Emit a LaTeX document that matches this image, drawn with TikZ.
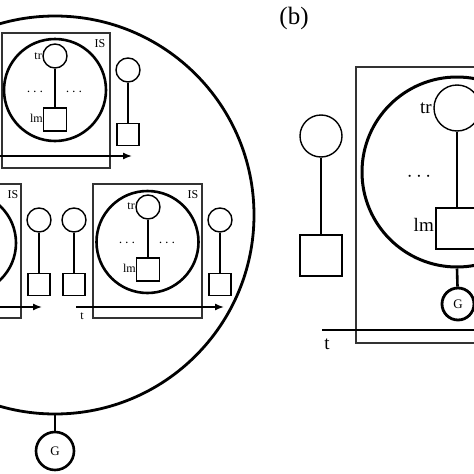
\documentclass[tikz,border=0pt]{standalone}
\usepackage{fontspec}
\setmainfont{Liberation Serif}
\usetikzlibrary{arrows.meta}
\begin{document}
\begin{tikzpicture}[x=1pt,y=-1pt,
  ring/.style={circle,draw,inner sep=0pt,line width=#1},
  ring/.default=2.6pt,
  isbox/.style={rectangle,draw=black!80,line width=1.5pt,inner sep=0pt},
  trc/.style={circle,draw,line width=1.4pt,inner sep=0pt,minimum size=#1},
  lmb/.style={rectangle,draw,line width=1.4pt,inner sep=0pt,minimum size=#1},
  link/.style={line width=1.4pt},
  tarrow/.style={line width=1.4pt,-{Latex[length=9pt,width=7pt]}},
  lab/.style={inner sep=0pt,font=\fontsize{12}{12}\selectfont},
  labb/.style={inner sep=0pt,font=\fontsize{19}{19}\selectfont},
  dotsl/.style={inner sep=0pt,font=\fontsize{15}{15}\selectfont}
]
\clip (0,0) rectangle (474,474);
\fill[white] (0,0) rectangle (474,474);

% ---------- panel (a) ----------
\node[ring=2.8pt,minimum size=398pt] (big) at (55,215) {};
\node[ring=2.6pt,minimum size=38pt,font=\fontsize{13}{13}\selectfont] (Ga) at (55,451) {G};
\draw[line width=2.6pt] (big.south) -- (Ga);

% top IS box
\node[isbox,minimum width=108pt,minimum height=135pt] (is1) at (56,100.5) {};
\node[lab] (is1l) at (100,44) {IS};
\node[ring,minimum size=102pt] (c1) at (55,90) {};
\node[trc=24pt] (tr1) at (55,56) {};
\node[lmb=23pt] (lm1) at (55,119.5) {};
\draw[link] (tr1) -- (lm1);
\node[lab,anchor=east] (tr1l) at (42,56) {tr};
\node[lab,anchor=east] (lm1l) at (43,118) {lm};
\node[dotsl] (d1a) at (35,92) {$\cdots$};
\node[dotsl] (d1b) at (74,92) {$\cdots$};
\coordinate (a1s) at (-2,156);
\coordinate (a1e) at (132,156);
\draw[tarrow] (a1s) -- (a1e);

% pair right of top box
\node[trc=24pt] (p1c) at (128,70) {};
\node[lmb=22pt] (p1b) at (128,134.5) {};
\draw[link] (p1c) -- (p1b);

% middle-left IS box (cut)
\node[isbox,minimum width=108pt,minimum height=134pt] (is2) at (-33,251) {};
\node[lab] (is2l) at (13,195) {IS};
\node[ring,minimum size=102pt] (c2) at (-35,243) {};
\coordinate (a2s) at (-2,307);
\coordinate (a2e) at (42,307);
\draw[tarrow] (a2s) -- (a2e);

% pairs between
\node[trc=24pt] (p2c) at (39,220) {};
\node[lmb=22pt] (p2b) at (39,284.5) {};
\draw[link] (p2c) -- (p2b);
\node[trc=24pt] (p3c) at (74,220) {};
\node[lmb=22pt] (p3b) at (74,284.5) {};
\draw[link] (p3c) -- (p3b);

% middle-right IS box
\node[isbox,minimum width=109pt,minimum height=134pt] (is3) at (147.5,251) {};
\node[lab] (is3l) at (193,195) {IS};
\node[ring,minimum size=102pt] (c3) at (147.5,242) {};
\node[trc=24pt] (tr3) at (148,207) {};
\node[lmb=23pt] (lm3) at (148,269.5) {};
\draw[link] (tr3) -- (lm3);
\node[lab,anchor=east] (tr3l) at (135,206) {tr};
\node[lab,anchor=east] (lm3l) at (136,268) {lm};
\node[dotsl] (d3a) at (127,243) {$\cdots$};
\node[dotsl] (d3b) at (167,243) {$\cdots$};
\coordinate (a3s) at (76,307);
\coordinate (a3e) at (224,307);
\draw[tarrow] (a3s) -- (a3e);
\node[lab] (t3) at (82,316) {t};

% pair right
\node[trc=24pt] (p4c) at (220,220) {};
\node[lmb=22pt] (p4b) at (220,284.5) {};
\draw[link] (p4c) -- (p4b);

% ---------- panel (b) ----------
\node[inner sep=0pt,font=\fontsize{25}{25}\selectfont] (blab) at (294,18) {(b)};

\node[trc=42pt] (bpc) at (321,136) {};
\node[lmb=42pt,minimum height=41pt] (bpb) at (321,255.5) {};
\draw[link] (bpc) -- (bpb);

\node[isbox,line width=1.6pt,minimum width=220pt,minimum height=276pt] (bis) at (466,205) {};
\node[ring=3pt,minimum size=190pt] (bc) at (457,172) {};
\node[trc=46pt] (btr) at (457,108) {};
\node[lmb=42pt,minimum height=41pt] (blm) at (457,228.5) {};
\draw[link] (btr) -- (blm);
\node[labb,anchor=east] (btrl) at (432,108) {tr};
\node[labb,anchor=east] (blml) at (434,225) {lm};
\node[inner sep=0pt,font=\fontsize{21}{21}\selectfont] (bdots) at (419,177) {$\cdots$};
\node[ring=2.8pt,minimum size=32pt,font=\fontsize{13}{13}\selectfont] (Gb) at (458,304) {G};
\draw[line width=2.6pt] (bc.south) -- (Gb);
\coordinate (bts) at (322,330);
\coordinate (bte) at (480,330);
\draw[line width=1.4pt] (bts) -- (bte);
\node[labb] (btl) at (327,344) {t};
\end{tikzpicture}
\end{document}
